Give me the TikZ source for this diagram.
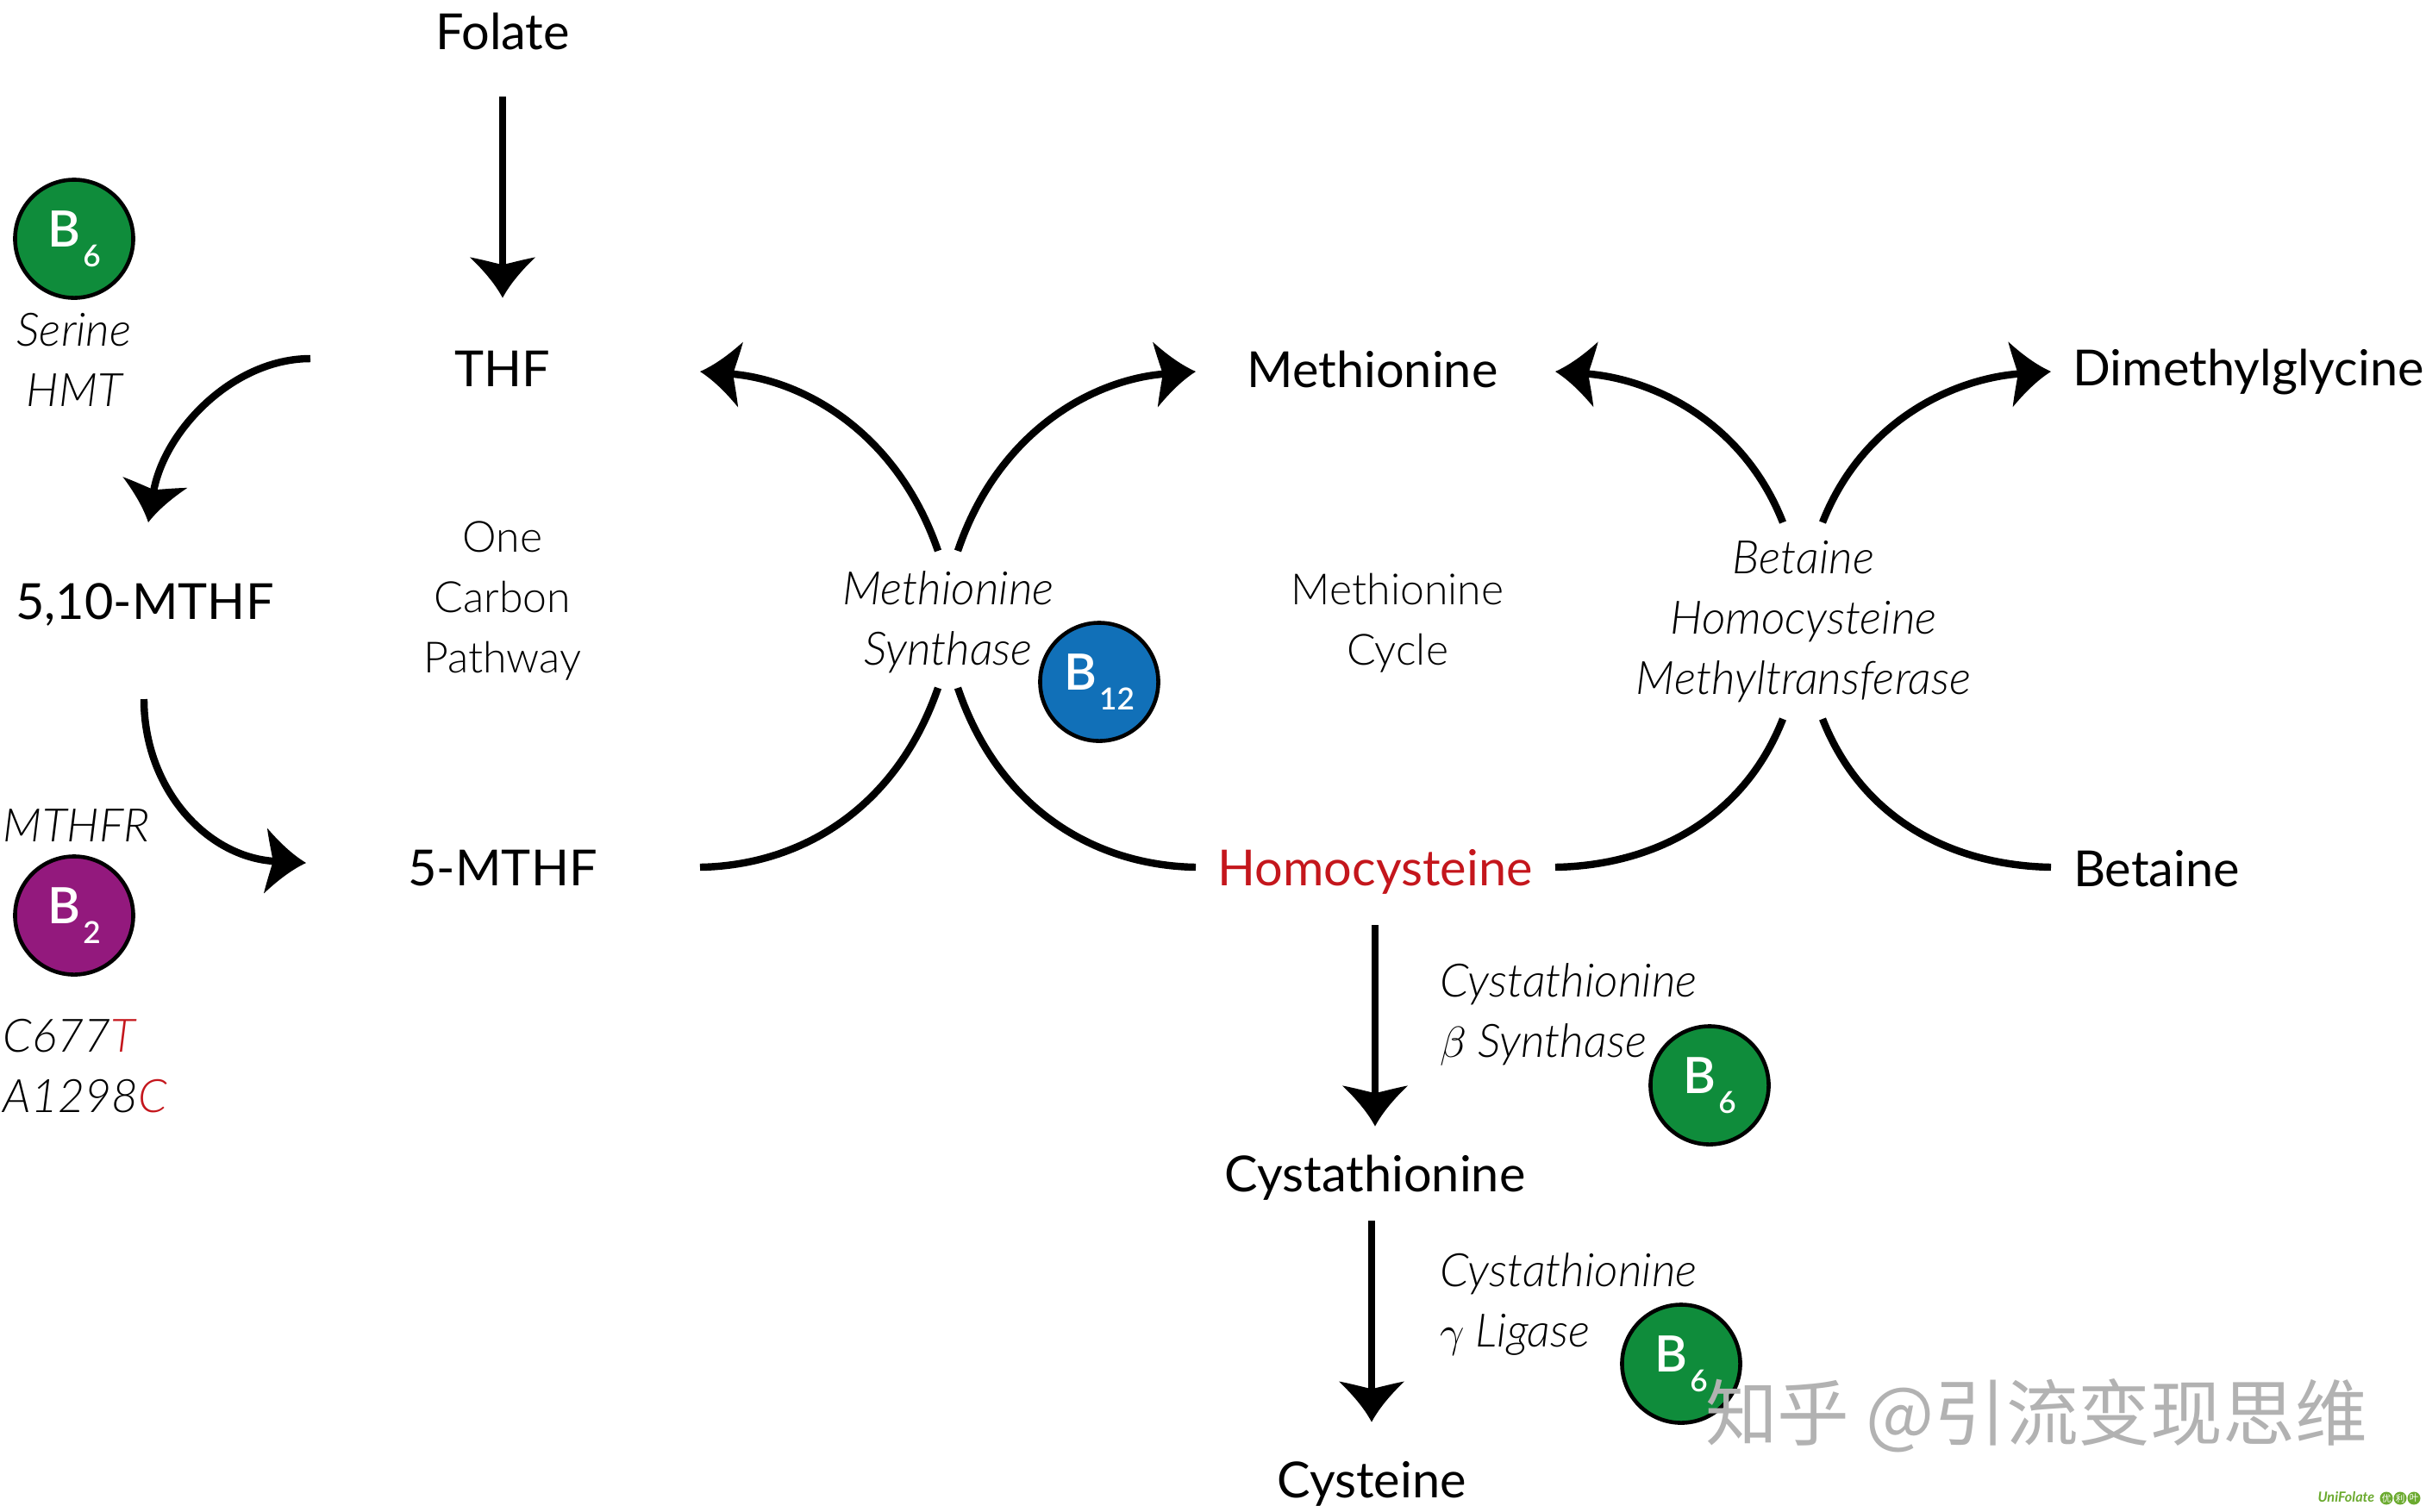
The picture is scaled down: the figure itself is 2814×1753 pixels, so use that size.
\documentclass[tikz,border=0pt]{standalone}
\usepackage{fontspec}
\setmainfont{Lato}
\newfontfamily\lightfont[ItalicFont={Lato Light Italic}]{Lato Light}
\newfontfamily\vitfont{Lato Semibold}
\newfontfamily\cjkfont{Noto Sans CJK SC}
\usetikzlibrary{positioning,calc}

\definecolor{vitgreen}{HTML}{0F8C3B}
\definecolor{vitpurple}{HTML}{93197D}
\definecolor{vitblue}{HTML}{1170B8}
\definecolor{hcyred}{HTML}{C4161C}
\definecolor{logogreen}{HTML}{6BAA2F}

% spear shaped tip of the pathway arrows
\pgfdeclarearrow{
  name=Spear,
  setup code={
    \pgfarrowssettipend{0pt}
    \pgfarrowssetlineend{-10pt}
    \pgfarrowssetvisualbackend{-13.4pt}
    \pgfarrowssetbackend{-13.4pt}
    \pgfarrowshullpoint{0pt}{0pt}
    \pgfarrowshullpoint{-13.4pt}{10.8pt}
    \pgfarrowshullpoint{-13.4pt}{-10.8pt}
  },
  drawing code={
    \pgfsetlinewidth{0pt}
    \pgfpathmoveto{\pgfqpoint{0pt}{0pt}}
    \pgfpathcurveto{\pgfqpoint{-4.5pt}{2.4pt}}{\pgfqpoint{-9pt}{6.2pt}}{\pgfqpoint{-13.4pt}{10.8pt}}
    \pgfpathcurveto{\pgfqpoint{-12.8pt}{7.5pt}}{\pgfqpoint{-11.5pt}{2.5pt}}{\pgfqpoint{-10.9pt}{0pt}}
    \pgfpathcurveto{\pgfqpoint{-11.5pt}{-2.5pt}}{\pgfqpoint{-12.8pt}{-7.5pt}}{\pgfqpoint{-13.4pt}{-10.8pt}}
    \pgfpathcurveto{\pgfqpoint{-9pt}{-6.2pt}}{\pgfqpoint{-4.5pt}{-2.4pt}}{\pgfqpoint{0pt}{0pt}}
    \pgfpathclose
    \pgfusepathqfill
  }
}

\newcommand{\vitamin}[1]{B\kern0.9pt\raisebox{-6.5pt}{\fontsize{10}{10}\selectfont #1}}

\begin{document}
\begin{tikzpicture}[
    x=0.01cm, y=-0.01cm,
    metab/.style={font=\fontsize{16.4}{20}\selectfont, inner sep=0pt, outer sep=0pt, text height=13pt, text depth=3.7pt},
    wide/.style={metab, minimum width=4.56cm},
    enzyme/.style={font=\lightfont\itshape\fontsize{15.2}{19.9}\selectfont, align=center, inner sep=0pt, outer sep=0pt},
    pool/.style={font=\lightfont\fontsize{14.2}{19.9}\selectfont, align=center, inner sep=0pt, outer sep=0pt},
    vit/.style={circle, draw=black, line width=1.3pt, minimum size=1.37cm, inner sep=0pt, text=white, font=\vitfont\fontsize{16.5}{17}\selectfont},
    stamp/.style={circle, fill=logogreen, minimum size=0.15cm, inner sep=0pt, text=white, font=\cjkfont\fontsize{3}{3}\selectfont},
    arr/.style={-Spear, line width=2.4pt, draw=black},
    arc/.style={line width=2.4pt, draw=black}
  ]
    \useasboundingbox (0,0) rectangle (2814,1753);

    % one carbon column
    \node[wide] (folate) at (583,41) {Folate};
    \node[wide, below=3.32cm of folate] (thf) {THF};
    \node[wide, below=5.2cm of thf] (mthf5) {5-MTHF};
    \node[metab] (mthf510) at (168,702) {5,10-MTHF};

    % methionine cycle
    \node[metab] (met) at (1592,433) {Methionine};
    \node[metab, text=hcyred] (hcy) at (1595,1011) {Homocysteine};
    \node[metab] (dmg) at (2608,431) {Dimethylglycine};
    \node[metab, anchor=west] (bet) at (2405,1012) {Betaine};
    \node[metab, below=2.96cm of hcy] (cysta) {Cystathionine};
    \node[metab] (cys) at (1591,1721) {Cysteine};

    % pool labels
    \node[pool, anchor=base] (carbon) at (583,780) {One\\Carbon\\Pathway};
    \node[pool, anchor=base] (cycle) at (1621,771) {Methionine\\Cycle};

    % enzymes
    \node[enzyme, anchor=base] (shmt) at (86,471) {Serine\\HMT};
    \node[enzyme, anchor=base west] (mthfr) at (4,976) {MTHFR};
    \node[enzyme, anchor=base west, align=left] (snp) at (4,1290) {C677\textcolor{hcyred}{T}\\A1298\textcolor{hcyred}{C}};
    \node[enzyme, anchor=base] (ms) at (1100,771) {Methionine\\Synthase};
    \node[enzyme, anchor=base] (bhmt) at (2092,805) {Betaine\\Homocysteine\\Methyltransferase};
    \node[enzyme, anchor=base west, align=left] (cbs) at (1670,1226) {Cystathionine\\\(\beta\) Synthase};
    \node[enzyme, anchor=base west, align=left] (cgl) at (1670,1562) {Cystathionine\\\(\gamma\) Ligase};

    % vitamins
    \node[vit, fill=vitgreen] (b6a) at (86,277) {\vitamin{6}};
    \node[vit, fill=vitpurple] (b2) at (86,1062) {\vitamin{2}};
    \node[vit, fill=vitblue] (b12) at (1275,791) {\vitamin{12}};
    \node[vit, fill=vitgreen] (b6b) at (1983,1259) {\vitamin{6}};
    \node[vit, fill=vitgreen] (b6c) at (1950,1582) {\vitamin{6}};

    % ends of the arcs round the two enzymes
    \coordinate (ms-nw) at ($(ms.base)+(-12,-132)$);
    \coordinate (ms-ne) at ($(ms.base)+(11,-132)$);
    \coordinate (ms-sw) at ($(ms.base)+(-12,27)$);
    \coordinate (ms-se) at ($(ms.base)+(11,27)$);
    \coordinate (bhmt-nw) at ($(bhmt.base)+(-24,-199)$);
    \coordinate (bhmt-ne) at ($(bhmt.base)+(22,-199)$);
    \coordinate (bhmt-sw) at ($(bhmt.base)+(-24,29)$);
    \coordinate (bhmt-se) at ($(bhmt.base)+(22,29)$);
    \coordinate (thf-out) at (360,416);
    \coordinate (thf-in) at (812,431);
    \coordinate (m510-in) at (172,606);
    \coordinate (m510-out) at (167,811);
    \coordinate (mthf5-in) at (355,1001);
    \coordinate (mthf5-out) at (812,1006);
    \coordinate (met-in-w) at (1387,431);
    \coordinate (met-in-e) at (1804,431);
    \coordinate (dmg-in) at (2379,431);
    \coordinate (hcy-w) at (1387,1006);
    \coordinate (hcy-e) at (1804,1006);
    \coordinate (bet-out) at (2379,1006);

    \draw[arr] ([yshift=-0.42cm]folate.south) -- ([yshift=0.57cm]thf.north);
    \draw[arr] (thf-out) .. controls (270,416) and (190,500) .. (m510-in);
    \draw[arr] (m510-out) .. controls (167,915) and (240,995) .. (mthf5-in);

    \draw[arr] (ms-nw) .. controls (1040,500) and (930,440) .. (thf-in);
    \draw[arr] (ms-ne) .. controls (1158,500) and (1268,440) .. (met-in-w);
    \draw[arc] (mthf5-out) .. controls (930,1004) and (1040,937) .. (ms-sw);
    \draw[arc] (hcy-w) .. controls (1268,1004) and (1158,937) .. (ms-se);

    \draw[arr] (bhmt-nw) .. controls (2022,489) and (1917,439) .. (met-in-e);
    \draw[arr] (bhmt-ne) .. controls (2160,489) and (2265,439) .. (dmg-in);
    \draw[arc] (hcy-e) .. controls (1917,1004) and (2022,951) .. (bhmt-sw);
    \draw[arc] (bet-out) .. controls (2265,1004) and (2160,951) .. (bhmt-se);

    \draw[arr] ([yshift=-0.33cm]hcy.south) -- ([yshift=0.3cm]cysta.north);
    \draw[arr] ($(cysta.south -| cys)+(0,21)$) -- ([yshift=0.42cm]cys.north);

    % watermark and logo
    \node[font=\cjkfont\fontsize{23.8}{24}\selectfont, text=black!30, inner sep=0pt] (mark) at (2362,1642) {知乎 @引流变现思维};
    \node[font=\itshape\bfseries\fontsize{4.6}{5}\selectfont, text=logogreen, inner sep=0pt, anchor=east] (logo) at (2755,1737) {UniFolate};
    \node[stamp] (you) at (2768,1738) {优};
    \node[stamp] (li) at (2784,1738) {利};
    \node[stamp] (ye) at (2800,1738) {叶};
\end{tikzpicture}
\end{document}
